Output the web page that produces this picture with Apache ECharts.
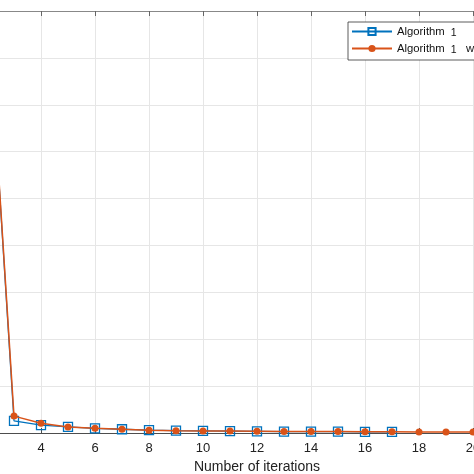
<!DOCTYPE html>
<html>
<head>
<meta charset="utf-8">
<script src="https://cdn.jsdelivr.net/npm/echarts@6/dist/echarts.min.js"></script>
<style>
  html, body { margin: 0; padding: 0; background: #fff; }
  #chart { width: 474px; height: 474px; }
</style>
</head>
<body>
<div id="chart"></div>
<script>
// iterations shown (x = 2 lies just outside the visible area)
const iterations = [2, 3, 4, 5, 6, 7, 8, 9, 10, 11, 12, 13, 14, 15, 16, 17, 18, 19, 20];
const algo1 = [9.4, 0.26, 0.17, 0.13, 0.1, 0.08, 0.06, 0.05, 0.045, 0.04, 0.035, 0.03, 0.03, 0.03, 0.025, 0.025];
const algo1w = [9.4, 0.36, 0.21, 0.13, 0.1, 0.08, 0.06, 0.05, 0.045, 0.04, 0.035, 0.03, 0.03, 0.03, 0.025, 0.025, 0.02, 0.02, 0.02];
const xTicks = [4, 6, 8, 10, 12, 14, 16, 18, 20];

const font = 'Liberation Sans, Arial, Helvetica, sans-serif';
const chart = echarts.init(document.getElementById('chart'));

chart.setOption({
    animation: false,
    grid: {
        left: -13,
        top: 11,
        width: 540,
        height: 422,
        outerBoundsMode: 'none',
        containLabel: false,
    },
    legend: {
        orient: 'vertical',
        left: 348,
        top: 22,
        itemWidth: 40,
        itemHeight: 9,
        itemGap: 4,
        padding: [4, 5, 4, 3],
        backgroundColor: '#fff',
        borderColor: '#333',
        borderWidth: 0.8,
        borderRadius: 0,
        textStyle: {
            fontFamily: font,
            fontSize: 11.3,
            color: '#111',
            rich: {
                s: { fontSize: 10.5, verticalAlign: 'bottom', padding: [4, 0, 0, 3], fontFamily: font, color: '#111' },
            },
        },
        formatter: name => name === 'a1' ? 'Algorithm {s|1}' : 'Algorithm {s|1}   with warm start',
        data: ['a1', 'a1w'],
    },
    xAxis: [{
        type: 'value',
        min: 2,
        max: 22,
        interval: 2,
        name: 'Number of iterations',
        nameLocation: 'middle',
        nameGap: 26,
        nameTextStyle: { fontFamily: font, fontSize: 14, color: '#222' },
        axisLine: { show: true, onZero: false, lineStyle: { color: '#4d4d4d', width: 1 } },
        axisTick: { show: true, inside: true, length: 5, lineStyle: { color: '#4d4d4d' } },
        axisLabel: {
            fontFamily: font,
            fontSize: 13,
            color: '#222',
            margin: 9,
            formatter: v => xTicks.includes(v) ? String(v) : '',
        },
        splitLine: { show: true, lineStyle: { color: '#e6e6e6', width: 1 } },
    }, {
        type: 'value',
        position: 'top',
        min: 2,
        max: 22,
        interval: 2,
        axisLine: { show: true, onZero: false, lineStyle: { color: '#888', width: 1 } },
        axisTick: { show: true, inside: true, length: 5, lineStyle: { color: '#666' } },
        axisLabel: { show: false },
        splitLine: { show: false },
    }],
    yAxis: {
        type: 'value',
        min: 0,
        max: 9,
        interval: 1,
        axisLine: { show: false },
        axisTick: { show: false },
        axisLabel: { show: false },
        splitLine: { show: true, lineStyle: { color: '#e6e6e6', width: 1 } },
    },
    series: [{
        name: 'a1',
        type: 'line',
        data: algo1.map((v, i) => [iterations[i], v]),
        symbol: 'rect',
        symbolSize: 9,
        color: '#0072BD',
        lineStyle: { color: '#0072BD', width: 1.3 },
        itemStyle: { color: 'rgba(255,255,255,0)', borderColor: '#0072BD', borderWidth: 1.3 },
        z: 2,
    }, {
        name: 'a1w',
        type: 'line',
        data: algo1w.map((v, i) => [iterations[i], v]),
        symbol: 'circle',
        symbolSize: 7,
        color: '#D95319',
        lineStyle: { color: '#D95319', width: 1.5 },
        itemStyle: { color: '#D95319' },
        z: 3,
    }],
});
</script>
</body>
</html>
